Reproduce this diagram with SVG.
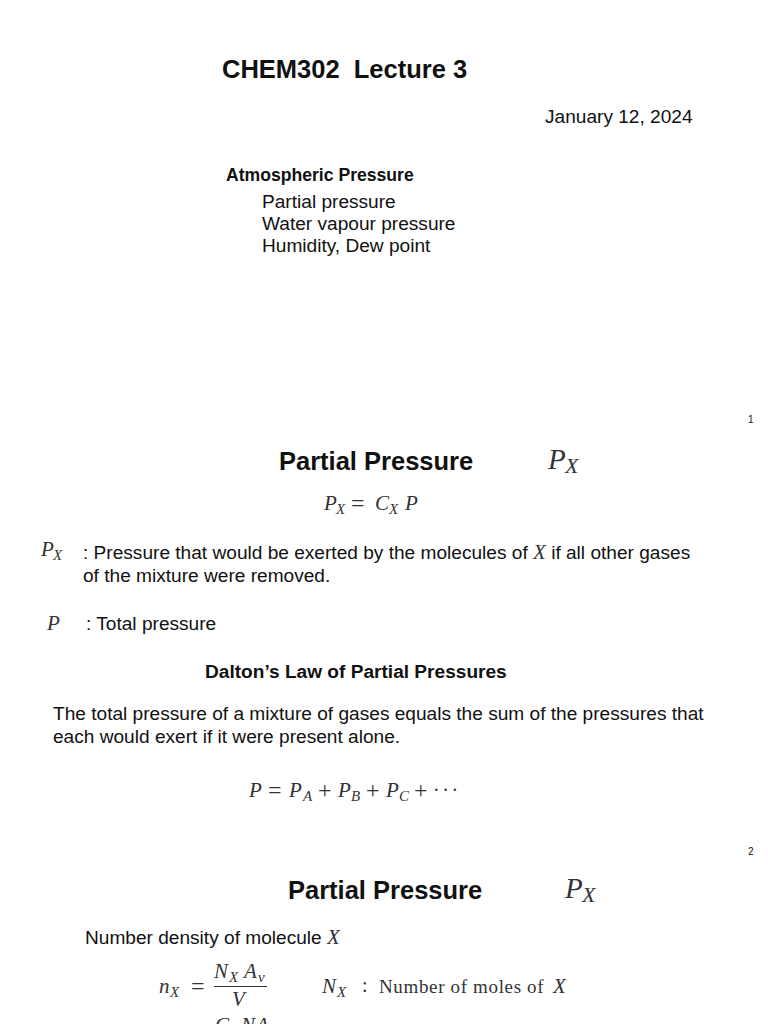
<svg xmlns="http://www.w3.org/2000/svg" width="768" height="1024" viewBox="0 0 768 1024">
<style>
text{font-family:"Liberation Sans",Arial,sans-serif;fill:#111;white-space:pre}
.t{font-weight:bold;font-size:25.5px}
.b{font-size:19.1px}
.h{font-weight:bold;font-size:19.1px}
.n{font-size:10px}
.m,.s{font-family:"Liberation Serif","Times New Roman",serif;font-style:italic;fill:#333}
.m{font-size:21px}
.s{font-size:15px}
.r{font-family:"Liberation Serif","Times New Roman",serif;fill:#333;font-size:24px}
.P{font-size:29px}
.S{font-size:22px}
</style>
<rect width="768" height="1024" fill="#fff"/>
<g id="slide1">
<text class="t" x="222" y="78">CHEM302  Lecture 3</text>
<text class="b" x="545" y="123">January 12, 2024</text>
<text class="h" x="226" y="181" style="font-size:17.6px">Atmospheric Pressure</text>
<text class="b" x="262" y="208">Partial pressure</text>
<text class="b" x="262" y="230">Water vapour pressure</text>
<text class="b" x="262" y="252">Humidity, Dew point</text>
<text class="n" x="748" y="423">1</text>
</g>
<g id="slide2">
<text class="t" x="279" y="470">Partial Pressure</text>
<text class="m P" x="548" y="469">P</text><text class="s S" x="565" y="473">X</text>
<text class="m" x="324" y="510">P</text><text class="s" x="336" y="514">X</text><text class="r" x="351" y="511">=</text><text class="m" x="375" y="510">C</text><text class="s" x="389" y="514">X</text><text class="m" x="405" y="510">P</text>
<text class="m" x="41" y="556">P</text><text class="s" x="53" y="560">X</text>
<text class="b" x="83" y="559">: Pressure that would be exerted by the molecules of <tspan class="m">X</tspan> if all other gases</text>
<text class="b" x="83" y="582">of the mixture were removed.</text>
<text class="m" x="47" y="630">P</text>
<text class="b" x="86" y="630">: Total pressure</text>
<text class="h" x="205" y="678">Dalton’s Law of Partial Pressures</text>
<text class="b" x="53" y="720">The total pressure of a mixture of gases equals the sum of the pressures that</text>
<text class="b" x="53" y="743">each would exert if it were present alone.</text>
<text class="m" x="249" y="797">P</text><text class="r" x="268" y="798">=</text><text class="m" x="289" y="797">P</text><text class="s" x="303" y="801">A</text><text class="r" x="318" y="798">+</text><text class="m" x="338" y="797">P</text><text class="s" x="351" y="801">B</text><text class="r" x="366" y="798">+</text><text class="m" x="386" y="797">P</text><text class="s" x="399" y="801">C</text><text class="r" x="414" y="798">+</text><text class="r" x="433" y="797" style="font-size:20px;letter-spacing:2.6px">···</text>
<text class="n" x="748" y="855">2</text>
</g>
<g id="slide3">
<text class="t" x="288" y="899">Partial Pressure</text>
<text class="m P" x="565" y="898">P</text><text class="s S" x="582" y="902">X</text>
<text class="b" x="85" y="944">Number density of molecule <tspan class="m">X</tspan></text>
<text class="m" x="159" y="993">n</text><text class="s" x="170" y="997">X</text><text class="r" x="191" y="994">=</text>
<text class="m" x="214" y="978">N</text><text class="s" x="229" y="982">X</text><text class="m" x="244" y="978">A</text><text class="s" x="258" y="982">v</text>
<rect x="214" y="986" width="53" height="1" fill="#333"/>
<text class="m" x="232" y="1006">V</text>
<text class="m" x="322" y="993">N</text><text class="s" x="337" y="997">X</text>
<text class="r" x="362" y="992" style="font-size:20px">:</text>
<text class="r" x="379" y="993" style="font-size:19px;letter-spacing:.65px">Number of moles of</text><text class="m" x="553" y="993">X</text>
<text class="m" x="215" y="1032">C</text><text class="s" x="229" y="1036">X</text><text class="m" x="241" y="1032">N</text><text class="m" x="256" y="1032">A</text>
</g>
</svg>
